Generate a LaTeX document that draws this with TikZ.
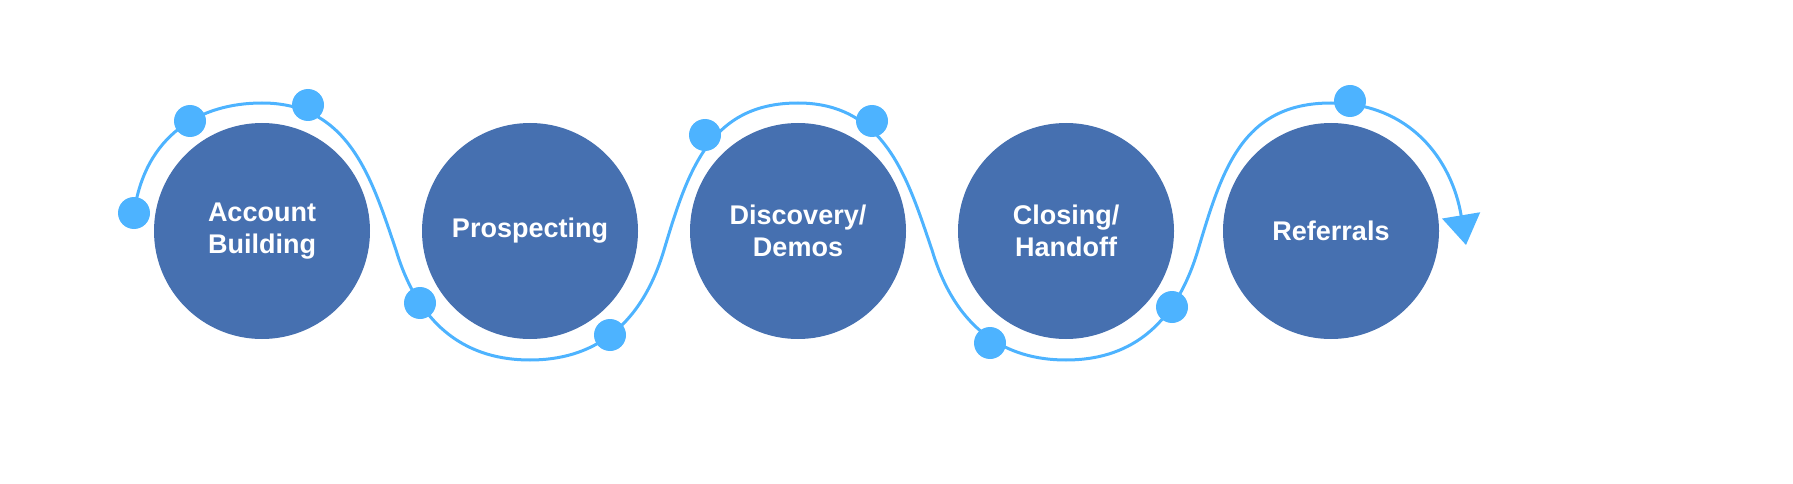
\documentclass[tikz,border=0pt]{standalone}
\usepackage{fontspec}
\setmainfont{Liberation Sans}
\usetikzlibrary{arrows.meta}
\definecolor{stage}{HTML}{4670B0}
\definecolor{wave}{HTML}{4DB3FF}
\begin{document}
\begin{tikzpicture}[x=1pt,y=-1pt,
  stage/.style={circle,fill=stage,minimum size=216pt,inner sep=0pt,text=white,font=\bfseries\fontsize{27}{32}\selectfont,align=center},
  dot/.style={circle,fill=wave,minimum size=32pt,inner sep=0pt},
  wave/.style={draw=wave,line width=3pt}]
\useasboundingbox (0,0) rectangle (1793,484);
\node[stage] (s1) at (262,231) {Account\\Building};
\node[stage] (s2) at (530,231) {Prospecting};
\node[stage] (s3) at (798,231) {Discovery/\\Demos};
\node[stage] (s4) at (1066,231) {Closing/\\Handoff};
\node[stage] (s5) at (1331,231) {Referrals};
\coordinate (p0) at (134,213);
\coordinate (end) at (1466,245);
\draw[wave,-{Triangle[length=30pt,width=38pt]}]
 (p0) .. controls (145,135) and (200,103) .. (262,103)
 .. controls (350,103) and (372,180) .. (396,250)
 .. controls (420,330) and (470,360) .. (530,360)
 .. controls (590,360) and (640,330) .. (664,250)
 .. controls (688,170) and (710,103) .. (798,103)
 .. controls (886,103) and (908,180) .. (932,250)
 .. controls (956,330) and (1006,360) .. (1066,360)
 .. controls (1126,360) and (1174,330) .. (1198,250)
 .. controls (1222,170) and (1242,103) .. (1331,103)
 .. controls (1410,103) and (1452,160) .. (end);
\node[dot] (d1) at (p0) {};
\node[dot] (d2) at (190,121) {};
\node[dot] (d3) at (308,105) {};
\node[dot] (d4) at (420,303) {};
\node[dot] (d5) at (610,335) {};
\node[dot] (d6) at (705,135) {};
\node[dot] (d7) at (872,121) {};
\node[dot] (d8) at (990,343) {};
\node[dot] (d9) at (1172,307) {};
\node[dot] (d10) at (1350,101) {};
\end{tikzpicture}
\end{document}
